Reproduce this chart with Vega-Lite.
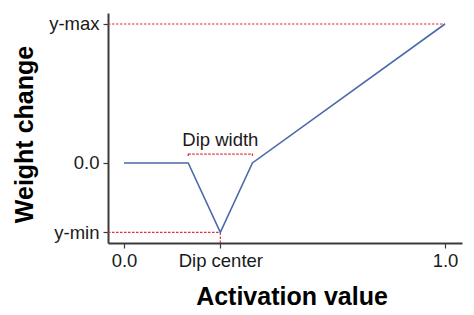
{
  "$schema": "https://vega.github.io/schema/vega-lite/v6.json",
  "width": 354,
  "height": 230,
  "autosize": {"type": "none"},
  "padding": {"left": 108, "top": 13, "right": 12, "bottom": 72},
  "background": "white",
  "config": {
    "view": {"stroke": null},
    "font": "Liberation Sans"
  },
  "datasets": {
    "curve": [
      {"x": 0.0, "y": 0.0},
      {"x": 0.2, "y": 0.0},
      {"x": 0.3, "y": -0.5},
      {"x": 0.4, "y": 0.0},
      {"x": 1.0, "y": 1.0}
    ],
    "guides": [
      {"x": -0.05, "x2": 1.0, "y": 1.0, "y2": 1.0},
      {"x": -0.05, "x2": 0.3, "y": -0.5, "y2": -0.5},
      {"x": 0.3, "x2": 0.3, "y": -0.5, "y2": -0.576},
      {"x": 0.2, "x2": 0.4, "y": 0.063, "y2": 0.063},
      {"x": 0.2, "x2": 0.2, "y": 0.05, "y2": 0.076},
      {"x": 0.4, "x2": 0.4, "y": 0.05, "y2": 0.076}
    ],
    "labels": [
      {"x": 0.3, "y": 0.122, "text": "Dip width"}
    ]
  },
  "layer": [
    {
      "data": {"name": "guides"},
      "mark": {"type": "rule", "color": "#dc2f3c", "strokeWidth": 1.2, "strokeDash": [2.5, 1.5]},
      "encoding": {
        "x": {"field": "x", "type": "quantitative", "scale": {"domain": [-0.05, 1.053], "nice": false, "zero": false}},
        "x2": {"field": "x2"},
        "y": {"field": "y", "type": "quantitative", "scale": {"domain": [-0.576, 1.079], "nice": false, "zero": false}},
        "y2": {"field": "y2"}
      }
    },
    {
      "data": {"name": "curve"},
      "mark": {"type": "line", "color": "#4a6aaa", "strokeWidth": 1.6},
      "encoding": {
        "x": {
          "field": "x", "type": "quantitative",
          "axis": {
            "values": [0, 0.3, 1],
            "labelExpr": "datum.value == 0 ? '0.0' : datum.value == 1 ? '1.0' : 'Dip center'",
            "grid": false,
            "domainColor": "#3a3a3a", "domainWidth": 2,
            "tickColor": "#3a3a3a", "tickWidth": 1.2, "tickSize": 5,
            "labelFontSize": 18.5, "labelColor": "#1a1a1a", "labelPadding": 3,
            "labelFlush": false, "labelFont": "Liberation Sans",
            "title": "Activation value",
            "titleFontSize": 25, "titleFontWeight": "bold", "titleColor": "#000000",
            "titleFont": "Liberation Sans",
            "titleX": 183.5, "titleY": 61, "titleBaseline": "alphabetic", "titleAlign": "center"
          }
        },
        "y": {
          "field": "y", "type": "quantitative",
          "axis": {
            "values": [-0.5, 0, 1],
            "labelExpr": "datum.value == 0 ? '0.0' : datum.value == 1 ? 'y-max' : 'y-min'",
            "grid": false,
            "domainColor": "#3a3a3a", "domainWidth": 2,
            "tickColor": "#3a3a3a", "tickWidth": 1.2, "tickSize": 5,
            "labelFontSize": 18.5, "labelColor": "#1a1a1a", "labelPadding": 4,
            "labelFlush": false, "labelFont": "Liberation Sans",
            "title": "Weight change",
            "titleFontSize": 25, "titleFontWeight": "bold", "titleColor": "#000000",
            "titleFont": "Liberation Sans",
            "titleAngle": -90, "titleX": -84, "titleY": 121,
            "titleBaseline": "middle", "titleAlign": "center"
          }
        }
      }
    },
    {
      "data": {"name": "labels"},
      "mark": {"type": "text", "fontSize": 18.5, "font": "Liberation Sans", "color": "#1a1a1a", "baseline": "alphabetic", "align": "center"},
      "encoding": {
        "x": {"field": "x", "type": "quantitative"},
        "y": {"field": "y", "type": "quantitative"},
        "text": {"field": "text"}
      }
    }
  ]
}
